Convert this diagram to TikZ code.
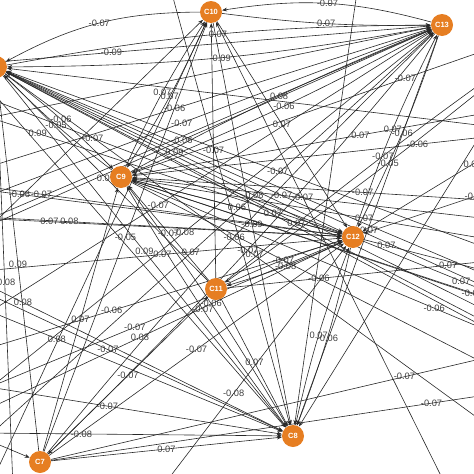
\documentclass[tikz,border=0pt]{standalone}
\usepackage{fontspec}
\setmainfont{Liberation Sans}
\usepackage{tikz}
\usetikzlibrary{arrows.meta,backgrounds}
\definecolor{corange}{RGB}{230,126,34}
\definecolor{cline}{RGB}{40,40,40}
\definecolor{ctext}{RGB}{65,65,65}

\begin{document}
\begin{tikzpicture}
  [
    x=1pt,y=1pt,
    concept/.style={circle,fill=corange,text=white,font=\bfseries\fontsize{7.5}{7.5}\selectfont,inner sep=0pt,minimum size=22pt},
    link/.style={draw=cline,line width=0.6pt,-{Stealth[length=5pt,width=3.8pt]}},
    weight/.style={font=\fontsize{9.3}{9.3}\selectfont,text=ctext,inner sep=0pt}
  ]
  \useasboundingbox (0,0) rectangle (474,-474);
  \clip (0,0) rectangle (474,-474);
  % concepts in view
  \node[concept] at (-4,-67) (ca) {};
  \node[concept] at (211,-12) (c10) {C10};
  \node[concept] at (442,-25) (c13) {C13};
  \node[concept] at (121,-177) (c9) {C9};
  \node[concept] at (353,-237) (c12) {C12};
  \node[concept] at (216,-289) (c11) {C11};
  \node[concept] at (40,-462) (c7) {C7};
  \node[concept] at (293,-436) (c8) {C8};
  % concepts out of view
  \coordinate (h1) at (-208,-79);
  \coordinate (h2) at (-82,-189);
  \coordinate (h3) at (-68,-217);
  \coordinate (h4) at (-68,-251);
  \coordinate (h5) at (-157,-43);
  \coordinate (h6) at (-267,-33);
  \coordinate (h7) at (-303,-153);
  \coordinate (h8) at (-259,-153);
  \coordinate (h9) at (-116,-379);
  \coordinate (h10) at (-243,-207);
  \coordinate (h11) at (-203,-207);
  \coordinate (h12) at (-66,-433);
  \coordinate (h13) at (549,-271);
  \coordinate (h14) at (503,-319);
  \coordinate (h15) at (557,-319);
  \coordinate (h16) at (599,-323);
  \coordinate (h17) at (537,-355);
  \coordinate (h18) at (587,-375);
  \coordinate (h19) at (593,-207);
  \coordinate (h20) at (593,-257);
  \coordinate (h21) at (679,17);
  \coordinate (h22) at (589,-95);
  \coordinate (h23) at (703,-113);
  \coordinate (h24) at (546,-37);
  \coordinate (h25) at (583,-97);
  \coordinate (h26) at (587,-159);
  \coordinate (h27) at (666,-243);
  \coordinate (h28) at (559,-321);
  \coordinate (h29) at (813,-407);
  \coordinate (h30) at (737,-435);
  \coordinate (h31) at (641,-311);
  \coordinate (h32) at (507,-375);
  \coordinate (h33) at (758,-294);
  \coordinate (h34) at (812,-346);
  \coordinate (h35) at (121,-541);
  \coordinate (h36) at (-169,-246);
  \coordinate (h37) at (-67,-268);
  \coordinate (h38) at (-73,-413);
  \coordinate (h39) at (-63,-433);
  \coordinate (h40) at (-119,-381);
  \coordinate (h41) at (-67,-378);
  \coordinate (h42) at (-119,-432);
  \coordinate (h43) at (13,-487);
  \coordinate (h44) at (-237,-174);
  \coordinate (h45) at (-17,-271);
  \coordinate (h46) at (-52,-473);
  \coordinate (h47) at (501,-435);
  \coordinate (h48) at (-60,-420);
  % far concepts, weights out of view
  \coordinate (f1) at (-250,-1000);
  \coordinate (f3) at (800,-1200);
  \coordinate (f4) at (-600,-800);
  \coordinate (f5) at (-100,1000);
  \coordinate (f6) at (500,1000);
  \coordinate (f7) at (-700,700);
  \coordinate (f8) at (1000,700);
  \coordinate (f9) at (-900,-300);
  \coordinate (f10) at (-900,-600);
  \coordinate (f11) at (1200,-300);
  \coordinate (f12) at (1100,-500);
  \coordinate (f13) at (1100,-200);

  \begin{scope}[on background layer]
  \clip (0,0) rectangle (474,-474);
  % links between concepts in view
  \draw[link] (c10) to[bend right=14] node[weight] {-0.07} (ca);
  \draw[link] (c13) to[bend right=12] node[weight] {-0.07} (c10);
  \draw[link] (c10) to[bend right=4] node[weight] {0.07} (c13);
  \draw[link] (ca) to[bend left=5] node[weight] {0.07} (c13);
  \draw[link] (c13) to[bend left=5] node[weight] {-0.09} (ca);
  \draw[link] (c9) to[bend left=4] node[weight] {-0.05} (ca);
  \draw[link] (ca) to[bend left=4] node[weight] {-0.06} (c9);
  \draw[link] (c9) to[bend left=4] node[weight] {0.07} (c10);
  \draw[link] (c10) to[bend left=4] node[weight] {0.07} (c9);
  \draw[link] (c10) -- node[weight] {0.07} (c12);
  \draw[link] (c10) -- node[weight] {-0.09} (c8);
  \draw[link] (c11) -- node[weight] {-0.07} (c10);
  \draw[link] (c7) -- node[weight] {-0.05} (c10);
  \draw[link] (c9) to[bend left=3] node[weight] {0.08} (c13);
  \draw[link] (c13) to[bend left=3] node[weight] {-0.06} (c9);
  \draw[link] (c12) -- node[weight] {0.06} (c9);
  \draw[link] (c11) -- node[weight] {-0.07} (c9);
  \draw[link] (c7) -- node[weight] {0.07} (c9);
  \draw[link] (c9) to[bend left=3] node[weight] {-0.06} (c8);
  \draw[link] (c8) to[bend left=3] node[weight] {-0.07} (c9);
  \draw[link] (c12) to[bend left=4] node[weight] {0.07} (c13);
  \draw[link] (c13) to[bend left=4] node[weight] {-0.06} (c12);
  \draw[link] (c12) to[bend left=4] node[weight] {-0.06} (c8);
  \draw[link] (c8) to[bend left=4] node[weight] {0.07} (c12);
  \draw[link] (ca) -- node[weight] {0.09} (c12);
  \draw[link] (c11) to[bend left=4] node[weight] {-0.07} (c12);
  \draw[link] (c12) to[bend left=4] node[weight] {-0.08} (c11);
  \draw[link] (c7) -- node[weight] {-0.07} (c12);
  \draw[link] (c13) -- node[weight] {-0.07} (c8);
  \draw[link] (c11) -- node[weight] {0.07} (ca);
  \draw[link] (c11) -- node[weight] {0.07} (c8);
  \draw[link] (c7) -- node[weight] {-0.07} (c11);
  \draw[link] (c7) to[bend left=3] node[weight] {-0.06} (c13);
  \draw[link] (c13) to[bend left=3] node[weight] {-0.07} (c7);
  \draw[link] (c7) -- node[weight] {0.07} (c8);
  \draw[link] (c7) -- node[weight] {0.09} (ca);
  \draw[link] (ca) -- node[weight] {0.09} (c8);
  % links to concepts out of view
  \draw[link] (h1) -- node[weight] {-0.09} (c13);
  \draw[link] (h2) -- node[weight] {-0.06} (c13);
  \draw[link] (h3) -- node[weight] {-0.07} (c13);
  \draw[link] (h4) -- node[weight] {-0.06} (c13);
  \draw[link] (h5) -- node[weight] {-0.07} (c12);
  \draw[link] (h6) -- node[weight] {0.09} (c12);
  \draw[link] (h7) -- node[weight] {-0.06} (c12);
  \draw[link] (h8) -- node[weight] {-0.07} (c12);
  \draw[link] (h9) -- node[weight] {-0.07} (c13);
  \draw[link] (h10) -- node[weight] {0.07} (c12);
  \draw[link] (h11) -- node[weight] {0.08} (c12);
  \draw[link] (h12) -- node[weight] {-0.08} (c13);
  \draw[link] (h13) -- node[weight] {-0.07} (ca);
  \draw[link] (h14) -- node[weight] {0.08} (ca);
  \draw[link] (h15) -- node[weight] {-0.07} (ca);
  \draw[link] (ca) -- node[weight] {-0.07} (h16);
  \draw[link] (h17) -- node[weight] {-0.07} (ca);
  \draw[link] (ca) -- node[weight] {0.07} (h18);
  \draw[link] (h19) -- node[weight] {-0.07} (c9);
  \draw[link] (h20) -- node[weight] {-0.07} (c9);
  \draw[link] (h21) -- node[weight] {-0.07} (c9);
  \draw[link] (h22) -- node[weight] {0.07} (c9);
  \draw[link] (c9) -- node[weight] {-0.06} (h23);
  \draw[link] (h24) to[bend left=2] node[weight] {-0.05} (c11);
  \draw[link] (c11) to[bend left=2] node[weight] {-0.07} (h24);
  \draw[link] (h25) -- node[weight] {0.07} (c12);
  \draw[link] (h26) -- node[weight] {-0.07} (c12);
  \draw[link] (c11) -- node[weight] {-0.07} (h27);
  \draw[link] (c12) -- node[weight] {0.07} (h28);
  \draw[link] (c9) -- node[weight] {-0.07} (h29);
  \draw[link] (c9) -- node[weight] {-0.06} (h30);
  \draw[link] (h31) -- node[weight] {0.07} (c9);
  \draw[link] (c9) -- node[weight] {-0.06} (h32);
  \draw[link] (c7) -- node[weight] {-0.07} (h33);
  \draw[link] (c7) -- node[weight] {-0.07} (h34);
  \draw[link] (h35) -- node[weight] {-0.08} (c12);
  \draw[link] (h36) -- node[weight] {0.08} (c8);
  \draw[link] (h37) -- node[weight] {-0.07} (c8);
  \draw[link] (h38) -- node[weight] {-0.07} (c12);
  \draw[link] (h39) -- node[weight] {0.08} (c12);
  \draw[link] (h40) -- node[weight] {-0.06} (c12);
  \draw[link] (h41) -- node[weight] {-0.07} (c8);
  \draw[link] (h42) -- node[weight] {-0.08} (c8);
  \draw[link] (h43) -- node[weight] {-0.08} (ca);
  \draw[link] (h44) -- node[weight] {0.08} (c8);
  \draw[link] (h45) -- node[weight] {0.07} (c12);
  \draw[link] (h46) -- node[weight] {0.07} (c13);
  \draw[link] (ca) -- node[weight] {-0.07} (h47);
  \draw[link] (h48) -- node[weight] {-0.08} (c7);
  % links to far concepts
  \draw[link] (f1) -- node[weight] {-0.07} (c10);
  \draw[link] (f3) -- node[weight] {-0.06} (c10);
  \draw[link] (f4) -- node[weight] {0.07} (c10);
  \draw[link] (f5) -- node[weight] {-0.07} (c8);
  \draw[link] (f6) -- node[weight] {0.08} (c8);
  \draw[link] (f7) -- node[weight] {-0.07} (c8);
  \draw[link] (f8) -- node[weight] {-0.07} (c8);
  \draw[link] (f9) -- node[weight] {0.07} (c13);
  \draw[link] (f10) -- node[weight] {-0.07} (c13);
  \draw[link] (f11) -- node[weight] {-0.07} (c9);
  \draw[link] (f12) -- node[weight] {0.06} (c9);
  \draw[link] (f13) -- node[weight] {-0.07} (ca);
  \end{scope}
\end{tikzpicture}
\end{document}
